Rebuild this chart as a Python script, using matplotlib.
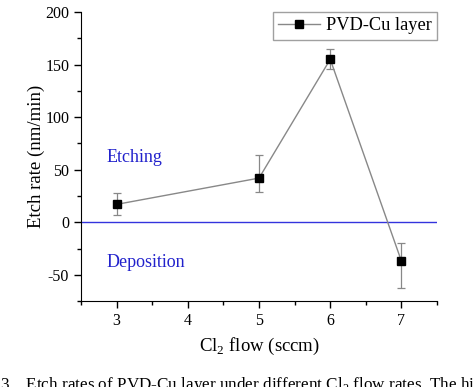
import matplotlib
matplotlib.use("Agg")
import matplotlib.pyplot as plt
from matplotlib.ticker import MultipleLocator
from matplotlib.lines import Line2D

flow = [3, 5, 6, 7]
rate = [17, 42, 155, -37]
err_low = [10, 13, 9, 26]
err_high = [11, 22, 10, 17]
series_label = "PVD-Cu layer"

plt.rcParams['font.family'] = ['Liberation Serif', 'DejaVu Serif']
plt.rcParams['mathtext.fontset'] = 'custom'
plt.rcParams['mathtext.rm'] = 'Liberation Serif'
plt.rcParams['axes.unicode_minus'] = False

fig = plt.figure(figsize=(4.74, 3.87), dpi=100)
ax = fig.add_axes([0.171, 0.222, 0.751, 0.747])

ax.axhline(0, color='#3333dd', lw=1.0, zorder=1)
ax.errorbar(flow, rate, yerr=[err_low, err_high], color='#888888', lw=1.0,
            ecolor='#888888', elinewidth=0.9, capsize=3, capthick=0.9,
            marker='s', ms=5.5, mfc='black', mec='black', zorder=3)

ax.set_xlim(2.5, 7.5)
ax.set_ylim(-75, 200)
ax.xaxis.set_major_locator(MultipleLocator(1))
ax.xaxis.set_minor_locator(MultipleLocator(0.5))
ax.yaxis.set_major_locator(MultipleLocator(50))
ax.yaxis.set_minor_locator(MultipleLocator(25))
ax.tick_params(which='major', direction='out', length=5, width=1, labelsize=11.5, pad=3.5)
ax.tick_params(which='minor', direction='out', length=3, width=1)
for s in ['top', 'right']:
    ax.spines[s].set_visible(False)

ax.set_xlabel('Cl$_2$ flow (sccm)', fontsize=13.5, labelpad=5)
ax.set_ylabel('Etch rate (nm/min)', fontsize=13.5, labelpad=0)

ax.text(2.86, 62, 'Etching', color='#2222cc', fontsize=13, va='center', ha='left')
ax.text(2.86, -38, 'Deposition', color='#2222cc', fontsize=13, va='center', ha='left')

handle = Line2D([], [], color='#888888', lw=1.0, marker='s', ms=5.5,
                mfc='black', mec='black')
leg = ax.legend([handle], [series_label], loc='upper right', bbox_to_anchor=(1.0, 1.0),
                fontsize=13.2, frameon=True, fancybox=False, handlelength=2.3,
                borderpad=0.3, handletextpad=0.3, borderaxespad=0.0)
leg.get_frame().set_edgecolor('#888888')
leg.get_frame().set_linewidth(1.0)

fig.text(0.0, 0.005, '3    Etch rates of PVD-Cu layer under different Cl$_2$ flow rates. The his',
         fontsize=12.3, ha='left', va='center')

fig.savefig('out.png', dpi=100)
